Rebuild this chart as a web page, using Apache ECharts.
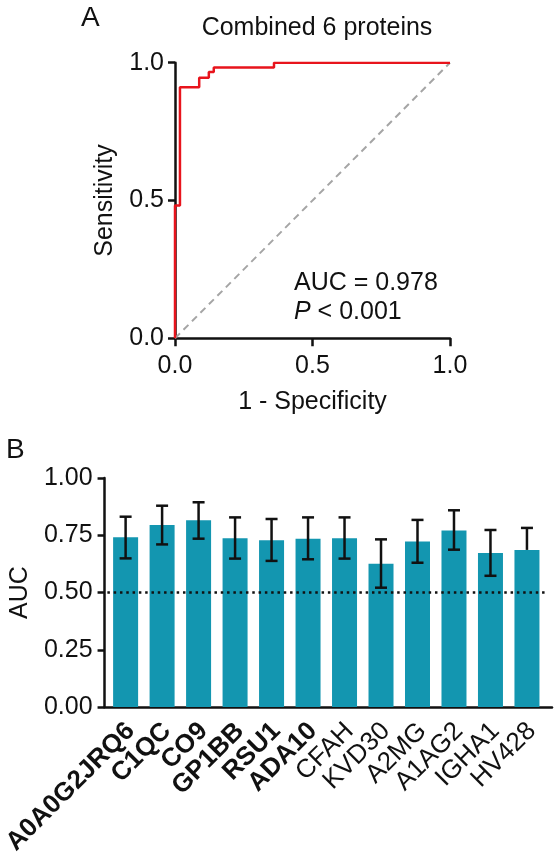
<!DOCTYPE html>
<html>
<head>
<meta charset="utf-8">
<script src="https://cdn.jsdelivr.net/npm/echarts@6/dist/echarts.min.js"></script>
<style>
  html, body { margin: 0; padding: 0; background: #fff; }
  #chart { width: 554px; height: 859px; }
</style>
</head>
<body>
<div id="chart"></div>
<script>
// panel A: ROC of the combined model
const fpr = [0, 0, 0.018, 0.018, 0.088, 0.088, 0.123, 0.123, 0.141, 0.141, 0.36, 0.36, 1]
const tpr = [0, 0.482, 0.482, 0.911, 0.911, 0.945, 0.945, 0.966, 0.966, 0.983, 0.983, 1, 1]
const chanceX = [0, 1]
const chanceY = [0, 1]

// panel B: single protein AUC with 95% CI
const proteins = ['A0A0G2JRQ6', 'C1QC', 'CO9', 'GP1BB', 'RSU1', 'ADA10', 'CFAH', 'KVD30', 'A2MG', 'A1AG2', 'IGHA1', 'HV428']
const combined = ['A0A0G2JRQ6', 'C1QC', 'CO9', 'GP1BB', 'RSU1', 'ADA10']
const auc = [0.741, 0.795, 0.815, 0.737, 0.728, 0.735, 0.737, 0.626, 0.723, 0.771, 0.672, 0.686]
const ciLow = [0.649, 0.710, 0.735, 0.648, 0.638, 0.645, 0.648, 0.521, 0.630, 0.687, 0.573, null]
const ciHigh = [0.831, 0.879, 0.894, 0.828, 0.821, 0.828, 0.828, 0.732, 0.817, 0.859, 0.773, 0.782]
const reference = 0.5

const font = 'Liberation Sans'
const black = '#111'

var chart = echarts.init(document.getElementById('chart'))

// whiskers with caps; HV428 only shows its upper half
var errorBar = function (params, api) {
    var i = api.value(0)
    var lo = api.value(2)
    var top = api.coord([i, api.value(3)])
    var bottom = api.coord([i, isNaN(lo) ? api.value(1) : lo])
    var half = 6
    var style = { stroke: black, lineWidth: 2.5 }
    var kids = [
        { type: 'line', shape: { x1: top[0], y1: top[1], x2: bottom[0], y2: bottom[1] }, style: style },
        { type: 'line', shape: { x1: top[0] - half, y1: top[1], x2: top[0] + half, y2: top[1] }, style: style }
    ]
    if (!isNaN(lo)) {
        kids.push({ type: 'line', shape: { x1: bottom[0] - half, y1: bottom[1], x2: bottom[0] + half, y2: bottom[1] }, style: style })
    }
    return { type: 'group', children: kids }
}

var axisText = { fontFamily: font, fontSize: 25, color: black }
var axisStroke = { color: black, width: 2.5 }

var option = {
    animation: false,
    backgroundColor: '#fff',
    textStyle: { fontFamily: font, color: black },
    title: [
        { text: 'A', left: 76, top: -1, textStyle: { fontFamily: font, fontSize: 28, fontWeight: 'normal', color: black } },
        { text: 'Combined 6 proteins', left: 312, textAlign: 'center', top: 11, textStyle: { fontFamily: font, fontSize: 25, fontWeight: 'normal', color: black } },
        {
            text: 'AUC = 0.978\n{i|P} < 0.001', left: 289, top: 264,
            textStyle: {
                fontFamily: font, fontSize: 25, fontWeight: 'normal', color: black, lineHeight: 29,
                rich: { i: { fontFamily: font, fontSize: 25, fontStyle: 'italic', color: black, lineHeight: 29 } }
            }
        },
        { text: 'B', left: 1, top: 431, textStyle: { fontFamily: font, fontSize: 28, fontWeight: 'normal', color: black } }
    ],
    grid: [
        { left: 175, top: 62.7, width: 275, height: 275.6 },
        { left: 100, top: 478, width: 445.2, height: 229 },
        { left: 93, top: 478, width: 459, height: 229 }
    ],
    xAxis: [
        {
            gridIndex: 0, type: 'value', min: 0, max: 1, interval: 0.5,
            name: '1 - Specificity', nameLocation: 'middle', nameGap: 51,
            nameTextStyle: axisText,
            axisLine: { lineStyle: axisStroke },
            axisTick: { length: 8, lineStyle: axisStroke },
            axisLabel: Object.assign({ margin: 15, formatter: function (v) { return v.toFixed(1) } }, axisText),
            splitLine: { show: false }
        },
        {
            gridIndex: 1, type: 'category',
            data: proteins.map(function (p) {
                return { value: p, textStyle: { fontWeight: combined.indexOf(p) >= 0 ? 'bold' : 'normal' } }
            }),
            axisLine: { show: false },
            axisTick: { alignWithLabel: true, length: 8, lineStyle: axisStroke },
            axisLabel: { fontFamily: font, fontSize: 26, color: black, rotate: 45, interval: 0, margin: 25, verticalAlign: 'top', padding: [0, -7, 0, 0] }
        },
        {
            gridIndex: 2, type: 'value', min: 0, max: 1,
            axisLine: { lineStyle: axisStroke },
            axisTick: { show: false }, axisLabel: { show: false }, splitLine: { show: false }
        }
    ],
    yAxis: [
        {
            gridIndex: 0, type: 'value', min: 0, max: 1, interval: 0.5,
            name: 'Sensitivity', nameLocation: 'middle', nameGap: 57,
            nameTextStyle: axisText,
            axisLine: { show: true, lineStyle: axisStroke },
            axisTick: { show: true, length: 7, lineStyle: axisStroke },
            axisLabel: Object.assign({ margin: 11, formatter: function (v) { return v.toFixed(1) } }, axisText),
            splitLine: { show: false }
        },
        {
            gridIndex: 1, type: 'value', min: 0, max: 1, show: false
        },
        {
            gridIndex: 2, type: 'value', min: 0, max: 1, interval: 0.25,
            name: 'AUC', nameLocation: 'middle', nameGap: 69,
            nameTextStyle: axisText,
            axisLine: { show: true, lineStyle: axisStroke },
            axisTick: { show: true, length: 7, lineStyle: axisStroke },
            axisLabel: Object.assign({ margin: 12, formatter: function (v) { return v.toFixed(2) } }, axisText),
            splitLine: { show: false }
        }
    ],
    series: [
        {
            type: 'line', xAxisIndex: 0, yAxisIndex: 0, symbol: 'none', z: 3,
            data: chanceX.map(function (x, i) { return [x, chanceY[i]] }),
            lineStyle: { color: '#a5a5a5', width: 2, type: [7, 5] }
        },
        {
            type: 'line', xAxisIndex: 0, yAxisIndex: 0, symbol: 'none', z: 4,
            data: fpr.map(function (x, i) { return [x, tpr[i]] }),
            lineStyle: { color: '#e8141c', width: 2.5 }
        },
        {
            type: 'bar', xAxisIndex: 1, yAxisIndex: 1, barWidth: 25,
            data: auc,
            itemStyle: { color: '#1396b0' },
            markLine: {
                silent: true, symbol: 'none', label: { show: false },
                lineStyle: { color: black, width: 2.5, type: [2.5, 3.8] },
                data: [{ yAxis: reference }]
            }
        },
        {
            type: 'custom', xAxisIndex: 1, yAxisIndex: 1, z: 5,
            renderItem: errorBar,
            data: proteins.map(function (p, i) { return [i, auc[i], ciLow[i], ciHigh[i]] })
        }
    ]
}

chart.setOption(option)
</script>
</body>
</html>
